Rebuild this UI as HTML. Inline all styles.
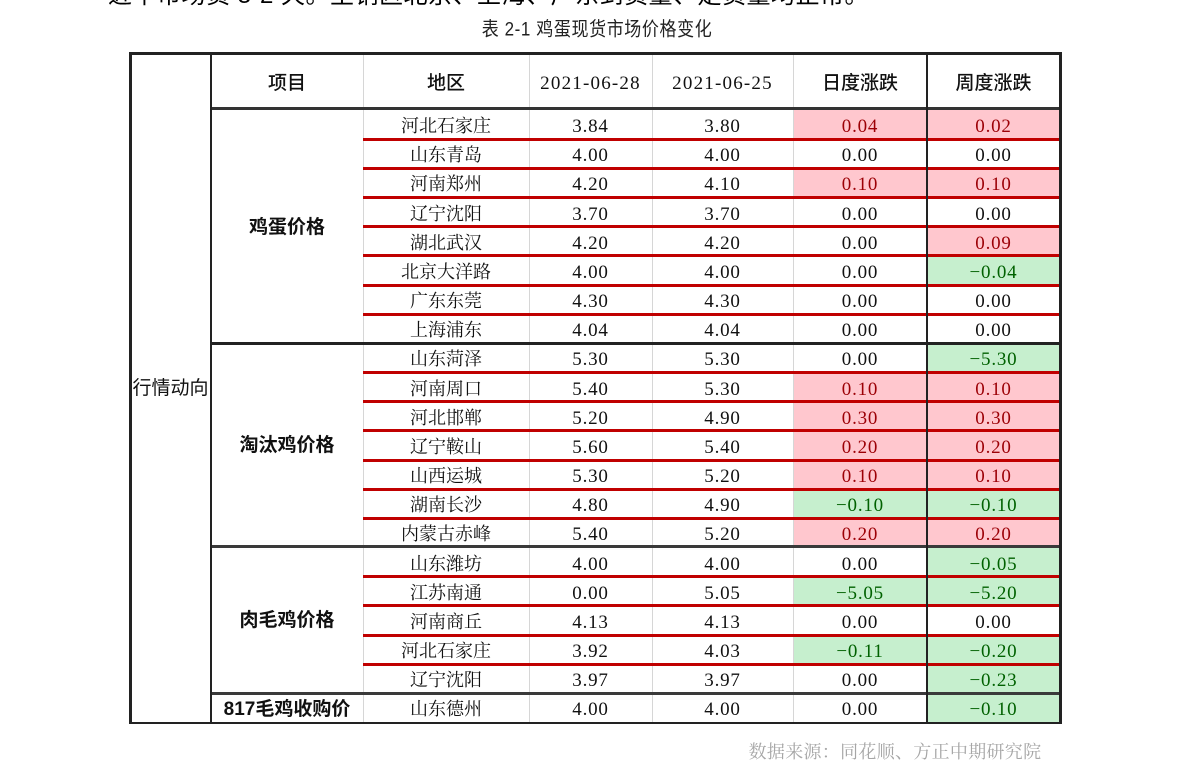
<!DOCTYPE html>
<html><head><meta charset="utf-8">
<style>
*{margin:0;padding:0;box-sizing:border-box}
html,body{width:1191px;height:782px;background:#fff;overflow:hidden;position:relative}
.abs{position:absolute}
.topline{position:absolute;left:108px;top:-16px;width:760px;height:24px;font:24px/24px "Liberation Sans","Noto Sans CJK SC",sans-serif;color:#000;white-space:nowrap;letter-spacing:0.5px}
.title{position:absolute;left:447px;top:19px;width:300px;text-align:center;font:17px/22px "Liberation Sans","Noto Sans CJK SC",sans-serif;color:#222;letter-spacing:0.6px;white-space:nowrap;transform:scaleY(1.12)}
.src{position:absolute;left:740px;top:740px;width:310px;text-align:center;font:18px/24px "Liberation Serif","Noto Serif CJK SC",serif;color:#a6a6a6;letter-spacing:0.3px;white-space:nowrap}
.row{position:absolute;left:363px;width:697px;height:29.17px}
.row span{position:absolute;top:0;height:100%;padding-top:2px;text-align:center;white-space:nowrap;color:#111}
.c2{left:0;width:166px;font:18px/29px "Liberation Serif","Noto Serif CJK SC",serif}
.c3,.c4,.c5,.c6{font:19px/29px "Liberation Serif","Noto Serif CJK SC",serif;letter-spacing:0.8px}
.c3{left:166px;width:123px}
.c4{left:289px;width:141px}
.c5{left:430px;width:134px}
.c6{left:564px;width:133px}
.row span.p{background:#ffc7ce;color:#9c0006}
.row span.g{background:#c6efce;color:#006100}
.hd{position:absolute;top:53px;height:56px;text-align:center;white-space:nowrap;color:#111}
.hs{font:500 19px/62px "Liberation Sans","Noto Sans CJK SC",sans-serif}
.hn{font:19px/62px "Liberation Serif","Noto Serif CJK SC",serif;letter-spacing:1.2px}
.grp{position:absolute;left:211px;width:152px;text-align:center;font:bold 19px/24px "Liberation Sans","Noto Sans CJK SC",sans-serif;color:#111;white-space:nowrap}
.red{position:absolute;left:363px;width:697px;height:3px;background:#c00000}
.gv{position:absolute;top:53px;height:670px;width:1px;background:#d6d6d6}
.bk{position:absolute;background:#222}
</style></head><body>
<div class="topline">近半市场货 3-2 天。主销区北京、上海、广东到货量、走货量均正常。</div>
<div class="title">表 2-1 鸡蛋现货市场价格变化</div>

<!-- header -->
<div class="hd hs" style="left:211px;width:152px">项目</div>
<div class="hd hs" style="left:363px;width:166px">地区</div>
<div class="hd hn" style="left:529px;width:123px">2021-06-28</div>
<div class="hd hn" style="left:652px;width:141px">2021-06-25</div>
<div class="hd hs" style="left:793px;width:134px">日度涨跌</div>
<div class="hd hs" style="left:927px;width:133px">周度涨跌</div>

<!-- rows -->
<div class="row" style="top:110px"><span class="c2">河北石家庄</span><span class="c3">3.84</span><span class="c4">3.80</span><span class="c5 p">0.04</span><span class="c6 p">0.02</span></div>
<div class="row" style="top:139.17px"><span class="c2">山东青岛</span><span class="c3">4.00</span><span class="c4">4.00</span><span class="c5">0.00</span><span class="c6">0.00</span></div>
<div class="row" style="top:168.33px"><span class="c2">河南郑州</span><span class="c3">4.20</span><span class="c4">4.10</span><span class="c5 p">0.10</span><span class="c6 p">0.10</span></div>
<div class="row" style="top:197.5px"><span class="c2">辽宁沈阳</span><span class="c3">3.70</span><span class="c4">3.70</span><span class="c5">0.00</span><span class="c6">0.00</span></div>
<div class="row" style="top:226.67px"><span class="c2">湖北武汉</span><span class="c3">4.20</span><span class="c4">4.20</span><span class="c5">0.00</span><span class="c6 p">0.09</span></div>
<div class="row" style="top:255.83px"><span class="c2">北京大洋路</span><span class="c3">4.00</span><span class="c4">4.00</span><span class="c5">0.00</span><span class="c6 g">−0.04</span></div>
<div class="row" style="top:285px"><span class="c2">广东东莞</span><span class="c3">4.30</span><span class="c4">4.30</span><span class="c5">0.00</span><span class="c6">0.00</span></div>
<div class="row" style="top:314.17px"><span class="c2">上海浦东</span><span class="c3">4.04</span><span class="c4">4.04</span><span class="c5">0.00</span><span class="c6">0.00</span></div>
<div class="row" style="top:343.33px"><span class="c2">山东菏泽</span><span class="c3">5.30</span><span class="c4">5.30</span><span class="c5">0.00</span><span class="c6 g">−5.30</span></div>
<div class="row" style="top:372.5px"><span class="c2">河南周口</span><span class="c3">5.40</span><span class="c4">5.30</span><span class="c5 p">0.10</span><span class="c6 p">0.10</span></div>
<div class="row" style="top:401.67px"><span class="c2">河北邯郸</span><span class="c3">5.20</span><span class="c4">4.90</span><span class="c5 p">0.30</span><span class="c6 p">0.30</span></div>
<div class="row" style="top:430.83px"><span class="c2">辽宁鞍山</span><span class="c3">5.60</span><span class="c4">5.40</span><span class="c5 p">0.20</span><span class="c6 p">0.20</span></div>
<div class="row" style="top:460px"><span class="c2">山西运城</span><span class="c3">5.30</span><span class="c4">5.20</span><span class="c5 p">0.10</span><span class="c6 p">0.10</span></div>
<div class="row" style="top:489.17px"><span class="c2">湖南长沙</span><span class="c3">4.80</span><span class="c4">4.90</span><span class="c5 g">−0.10</span><span class="c6 g">−0.10</span></div>
<div class="row" style="top:518.33px"><span class="c2">内蒙古赤峰</span><span class="c3">5.40</span><span class="c4">5.20</span><span class="c5 p">0.20</span><span class="c6 p">0.20</span></div>
<div class="row" style="top:547.5px"><span class="c2">山东潍坊</span><span class="c3">4.00</span><span class="c4">4.00</span><span class="c5">0.00</span><span class="c6 g">−0.05</span></div>
<div class="row" style="top:576.67px"><span class="c2">江苏南通</span><span class="c3">0.00</span><span class="c4">5.05</span><span class="c5 g">−5.05</span><span class="c6 g">−5.20</span></div>
<div class="row" style="top:605.83px"><span class="c2">河南商丘</span><span class="c3">4.13</span><span class="c4">4.13</span><span class="c5">0.00</span><span class="c6">0.00</span></div>
<div class="row" style="top:635px"><span class="c2">河北石家庄</span><span class="c3">3.92</span><span class="c4">4.03</span><span class="c5 g">−0.11</span><span class="c6 g">−0.20</span></div>
<div class="row" style="top:664.17px"><span class="c2">辽宁沈阳</span><span class="c3">3.97</span><span class="c4">3.97</span><span class="c5">0.00</span><span class="c6 g">−0.23</span></div>
<div class="row" style="top:693.33px"><span class="c2">山东德州</span><span class="c3">4.00</span><span class="c4">4.00</span><span class="c5">0.00</span><span class="c6 g">−0.10</span></div>

<!-- group labels -->
<div class="abs" style="left:130px;width:81px;top:377px;text-align:center;font:19px/24px 'Liberation Sans','Noto Sans CJK SC',sans-serif;color:#111;white-space:nowrap">行情动向</div>
<div class="grp" style="top:216px">鸡蛋价格</div>
<div class="grp" style="top:434px">淘汰鸡价格</div>
<div class="grp" style="top:609px">肉毛鸡价格</div>
<div class="grp" style="top:698px">817毛鸡收购价</div>

<!-- gray verticals -->
<div class="gv" style="left:363px"></div>
<div class="gv" style="left:529px"></div>
<div class="gv" style="left:652px"></div>
<div class="gv" style="left:793px"></div>

<!-- red lines -->
<div class="red" style="top:137.7px"></div>
<div class="red" style="top:166.8px"></div>
<div class="red" style="top:196px"></div>
<div class="red" style="top:225.2px"></div>
<div class="red" style="top:254.3px"></div>
<div class="red" style="top:283.5px"></div>
<div class="red" style="top:312.7px"></div>
<div class="red" style="top:371px"></div>
<div class="red" style="top:400.2px"></div>
<div class="red" style="top:429.3px"></div>
<div class="red" style="top:458.5px"></div>
<div class="red" style="top:487.7px"></div>
<div class="red" style="top:516.8px"></div>
<div class="red" style="top:575.2px"></div>
<div class="red" style="top:604.3px"></div>
<div class="red" style="top:633.5px"></div>
<div class="red" style="top:662.7px"></div>

<!-- black borders -->
<div class="bk" style="left:130px;top:51.5px;width:931px;height:3px"></div>
<div class="bk" style="left:211px;top:107px;width:850px;height:3px;background:#333"></div>
<div class="bk" style="left:211px;top:341.5px;width:850px;height:3px"></div>
<div class="bk" style="left:211px;top:544.5px;width:850px;height:3px;background:#3a3a3a"></div>
<div class="bk" style="left:211px;top:692px;width:850px;height:2.5px;background:#3a3a3a"></div>
<div class="bk" style="left:130px;top:721.5px;width:931px;height:2.5px"></div>
<div class="bk" style="left:129px;top:52px;width:2.5px;height:672px"></div>
<div class="bk" style="left:209.5px;top:52px;width:2.5px;height:672px"></div>
<div class="bk" style="left:926px;top:52px;width:2px;height:672px"></div>
<div class="bk" style="left:1059px;top:52px;width:2.5px;height:672px"></div>

<div class="src">数据来源：同花顺、方正中期研究院</div>
</body></html>
